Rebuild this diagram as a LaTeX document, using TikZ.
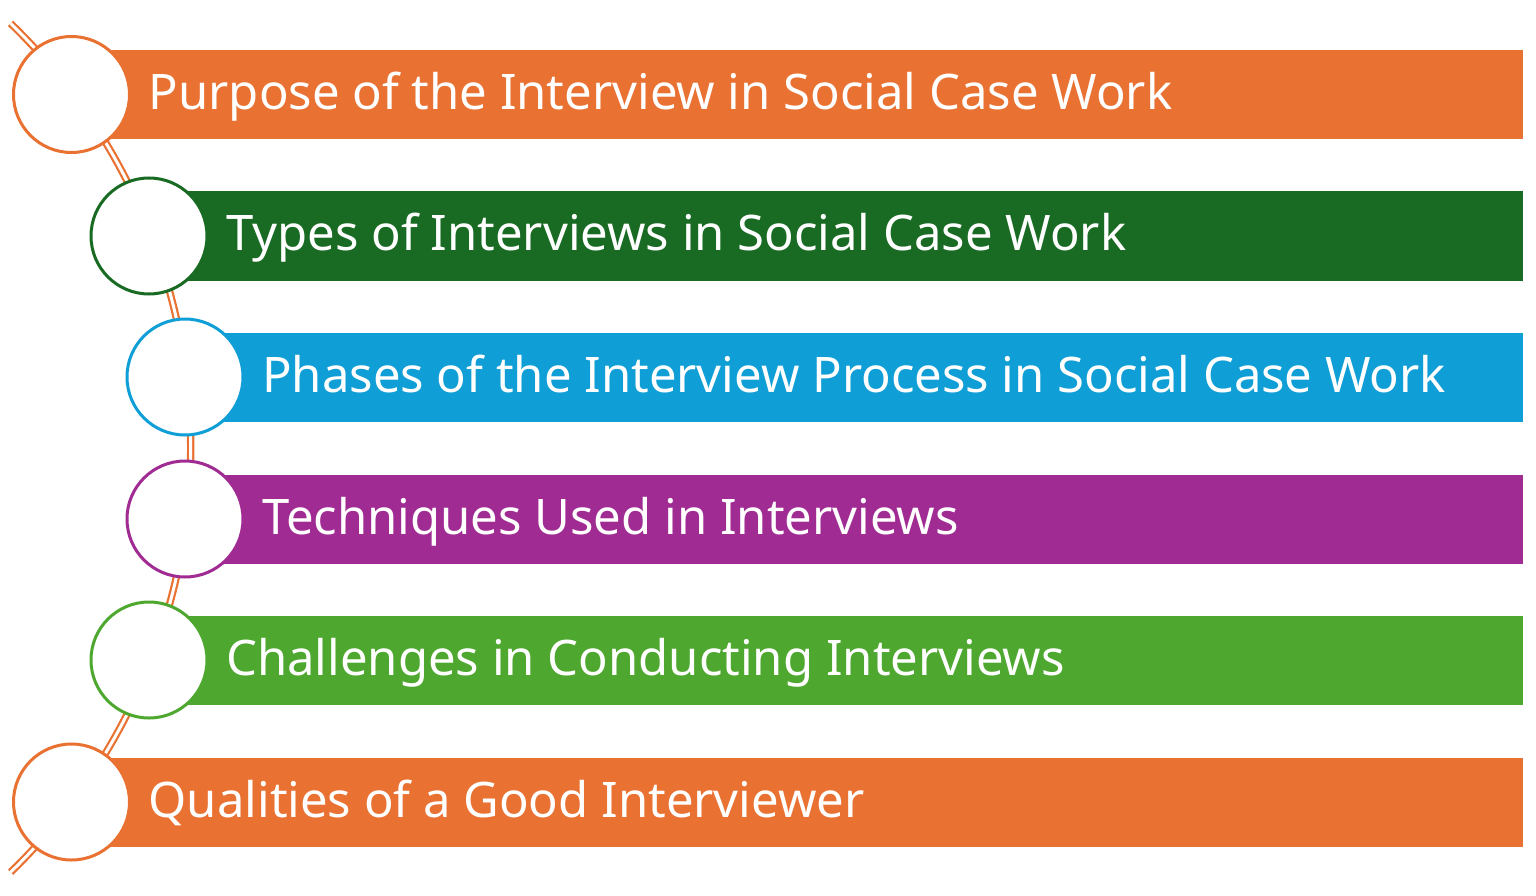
\documentclass[tikz,border=0pt]{standalone}
\usepackage{fontspec}
\setmainfont{Noto Sans}
\usetikzlibrary{calc}
\definecolor{cOrange}{HTML}{E97132}
\definecolor{cDkGreen}{HTML}{196B24}
\definecolor{cBlue}{HTML}{0F9ED5}
\definecolor{cPurple}{HTML}{A02B93}
\definecolor{cLtGreen}{HTML}{4EA72E}
\tikzset{
  bar/.style={fill=#1, draw=none},
  dot/.style={circle, draw=#1, line width=3pt, fill=white, minimum size=116pt, inner sep=0pt},
  lbl/.style={anchor=base west, text=white, font=\fontsize{49}{56}\selectfont, inner sep=0pt},
  spine/.style={draw=cOrange, line width=2.2pt, double=white, double distance=3pt}
}
\begin{document}
\begin{tikzpicture}[x=1pt,y=-1pt]
\useasboundingbox (0,0) rectangle (1536,896);
\coordinate (C) at (-399.3,447.8);
\draw[spine] ($(C)+(-46:590)$) arc[start angle=-46, end angle=46, radius=590];
% rows
\foreach \cx/\cy/\col/\txt [count=\i] in {
  71.5/94.5/cOrange/{Purpose of the Interview in Social Case Work},
  149/236/cDkGreen/{Types of Interviews in Social Case Work},
  185/377/cBlue/{Phases of the Interview Process in Social Case Work},
  185/519/cPurple/{Techniques Used in Interviews},
  149/660/cLtGreen/{Challenges in Conducting Interviews},
  71.5/802/cOrange/{Qualities of a Good Interviewer}}{
  \fill[bar=\col] (\cx,\cy-44.5) rectangle (1523,\cy+44.5);
  \node[dot=\col] (d\i) at (\cx,\cy) {};
  \node[lbl] (t\i) at (\cx+77,\cy+15) {\txt};
}
\end{tikzpicture}
\end{document}
